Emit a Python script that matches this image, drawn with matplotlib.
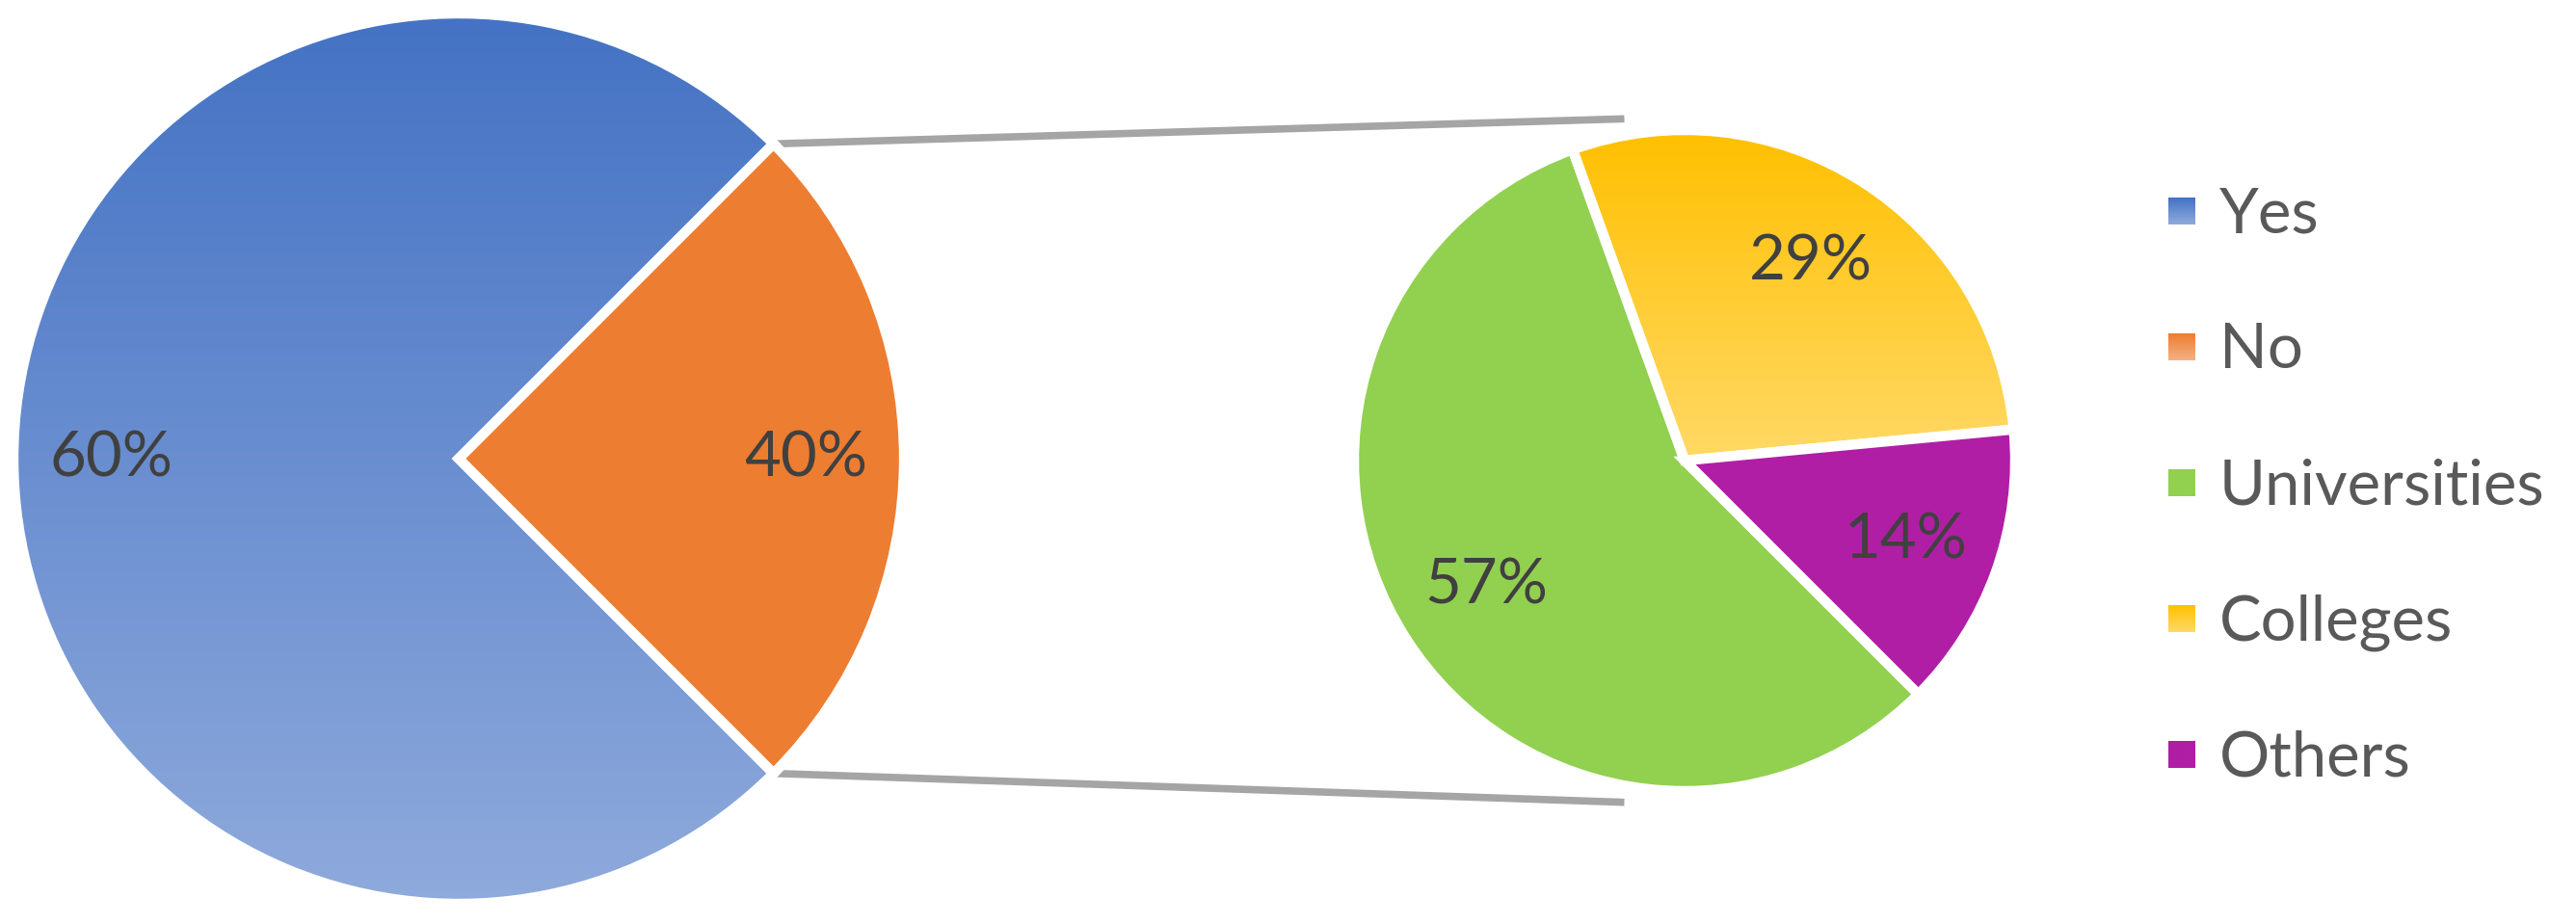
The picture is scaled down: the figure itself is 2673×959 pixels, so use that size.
import numpy as np
import matplotlib
matplotlib.use('Agg')
import matplotlib.pyplot as plt
from matplotlib.colors import LinearSegmentedColormap

plt.rcParams['font.family'] = ['Lato', 'DejaVu Sans']

# data to plot
main_names = ['Yes', 'No']
main_shares = [75, 25]           # slice sizes as drawn
main_labels = ['60%', '40%']     # text printed on the slices
sub_names = ['Universities', 'Colleges', 'Others']
sub_shares = [57, 29, 14]

# (top colour, bottom colour) for every slice, same pair = flat fill
main_fills = [('#4472C4', '#8FAADC'), ('#ED7D31', '#ED7D31')]
sub_fills = [('#92D050', '#92D050'), ('#FFC000', '#FFD966'), ('#B01EA5', '#B01EA5')]
legend_fills = [('#4472C4', '#8FAADC'), ('#ED7D31', '#F4B183'),
                ('#92D050', '#92D050'), ('#FFC000', '#FFD966'), ('#B01EA5', '#B01EA5')]

W, H = 2673, 959
fig = plt.figure(figsize=(W / 100, H / 100), dpi=100)
ax = fig.add_axes([0, 0, 1, 1])

label_style = dict(ha='center', va='center', fontsize=47, color='#404040')
edge_style = dict(edgecolor='white', linewidth=7.5, zorder=2)


def fill_wedge(wedge, top, bottom):
    if top == bottom:
        wedge.set_facecolor(top)
        return
    ext = wedge.get_path().get_extents()
    cmap = LinearSegmentedColormap.from_list('grad', [bottom, top])
    grad = np.linspace(0, 1, 256).reshape(-1, 1)
    im = ax.imshow(grad, extent=(ext.x0, ext.x1, ext.y0, ext.y1), origin='lower',
                   cmap=cmap, aspect='auto', zorder=1)
    im.set_clip_path(wedge)
    wedge.set_facecolor('none')


# main pie
left_c = (476, H - 476)
left_r = 462
wl, tl = ax.pie(main_shares, labels=main_labels, startangle=45, counterclock=True,
                explode=[0, 0.035], labeldistance=0.78, center=left_c, radius=left_r,
                wedgeprops=edge_style, textprops=label_style)
for w, (top, bot) in zip(wl, main_fills):
    fill_wedge(w, top, bot)

# second pie
right_c = (1748, H - 478)
right_r = 343
wr, tr, pr = ax.pie(sub_shares, autopct='%1.0f%%', startangle=-45, counterclock=False,
                    explode=[0, 0.025, 0.025], pctdistance=0.71, center=right_c,
                    radius=right_r, wedgeprops=edge_style, textprops=label_style)
for w, (top, bot) in zip(wr, sub_fills):
    fill_wedge(w, top, bot)
for t in tl + pr:
    t.set_zorder(4)

# connector lines
no_w = wl[1]
cx, cy = no_w.center
for ang_l, ang_r in [(no_w.theta2, 100), (no_w.theta1, -100)]:
    a0, a1 = np.radians(ang_l), np.radians(ang_r)
    x0, y0 = cx + no_w.r * np.cos(a0), cy + no_w.r * np.sin(a0)
    x1 = right_c[0] + 1.05 * right_r * np.cos(a1)
    y1 = right_c[1] + 1.05 * right_r * np.sin(a1)
    ax.plot([x0, x1], [y0, y1], color='#A5A5A5', lw=5.5, solid_capstyle='butt', zorder=1)

# legend
for i, (name, (top, bot)) in enumerate(zip(main_names + sub_names, legend_fills)):
    yc = H - (219 + 141 * i)
    cmap = LinearSegmentedColormap.from_list('lg', [bot, top])
    ax.imshow(np.linspace(0, 1, 64).reshape(-1, 1), extent=(2250, 2278, yc - 14, yc + 14),
              origin='lower', cmap=cmap, aspect='auto', zorder=2)
    ax.text(2303, yc - 22, name, fontsize=47, color='#595959', va='baseline', ha='left')

ax.set_xlim(0, W)
ax.set_ylim(0, H)
ax.set_aspect('equal', adjustable='datalim')
ax.axis('off')

fig.savefig('out.png', dpi=100)
